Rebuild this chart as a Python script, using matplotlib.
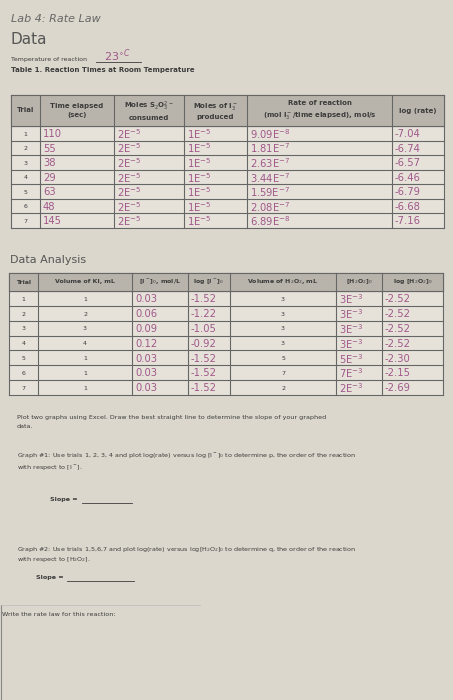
import matplotlib
matplotlib.use("Agg")
import matplotlib.pyplot as plt

trials = ["1", "2", "3", "4", "5", "6", "7"]
time_elapsed = ["110", "55", "38", "29", "63", "48", "145"]
moles_s2o3 = ["2E$^{-5}$"] * 7
moles_i3 = ["1E$^{-5}$"] * 7
rate = ["9.09E$^{-8}$", "1.81E$^{-7}$", "2.63E$^{-7}$", "3.44E$^{-7}$",
        "1.59E$^{-7}$", "2.08E$^{-7}$", "6.89E$^{-8}$"]
log_rate = ["-7.04", "-6.74", "-6.57", "-6.46", "-6.79", "-6.68", "-7.16"]

vol_ki = ["1", "2", "3", "4", "1", "1", "1"]
conc_i = ["0.03", "0.06", "0.09", "0.12", "0.03", "0.03", "0.03"]
log_i = ["-1.52", "-1.22", "-1.05", "-0.92", "-1.52", "-1.52", "-1.52"]
vol_h2o2 = ["3", "3", "3", "3", "5", "7", "2"]
conc_h2o2 = ["3E$^{-3}$", "3E$^{-3}$", "3E$^{-3}$", "3E$^{-3}$", "5E$^{-3}$", "7E$^{-3}$", "2E$^{-3}$"]
log_h2o2 = ["-2.52", "-2.52", "-2.52", "-2.52", "-2.30", "-2.15", "-2.69"]

W, H = 453, 700
fig = plt.figure(figsize=(W / 100, H / 100), dpi=100)
bg = "#dcd7cc"
fig.patch.set_facecolor(bg)
ax = fig.add_axes([0, 0, 1, 1])
ax.set_xlim(0, W)
ax.set_ylim(H, 0)
ax.axis("off")
ax.set_facecolor(bg)

ink = "#3c3c3c"
hand = "#a0588a"
head_bg = "#b9b4ab"


def table(xs, ytop, yhead, ybot, headers, cols, hand_cols, hfs=5):
    n = len(cols[0])
    ax.fill_between([xs[0], xs[-1]], ytop, yhead, color=head_bg, zorder=1)
    ax.fill_between([xs[0], xs[-1]], yhead, ybot, color="#e6e2da", zorder=0)
    for x in xs:
        ax.plot([x, x], [ytop, ybot], color="#666", lw=0.8, zorder=2)
    rh = (ybot - yhead) / n
    for y in [ytop, yhead] + [yhead + rh * i for i in range(1, n + 1)]:
        ax.plot([xs[0], xs[-1]], [y, y], color="#666", lw=0.8, zorder=2)
    for j, h in enumerate(headers):
        ax.text((xs[j] + xs[j + 1]) / 2, (ytop + yhead) / 2, h, ha="center", va="center",
                fontsize=hfs, color=ink, fontweight="bold", linespacing=1.5)
    for j, col in enumerate(cols):
        for i, v in enumerate(col):
            yc = yhead + rh * (i + 0.55)
            if j in hand_cols:
                ax.text(xs[j] + 3, yc, v, ha="left", va="center", fontsize=7.2,
                        color=hand, family="DejaVu Sans", zorder=3)
            else:
                ax.text((xs[j] + xs[j + 1]) / 2, yc, v, ha="center", va="center",
                        fontsize=4.5, color=ink, zorder=3)


ax.text(11, 19, "Lab 4: Rate Law", fontsize=8, style="italic", color="#666", va="center")
ax.text(11, 39, "Data", fontsize=11, color="#555", va="center")
ax.text(11, 59, "Temperature of reaction", fontsize=4.5, color=ink, va="center")
ax.plot([96, 141], [62, 62], color=ink, lw=0.6)
ax.text(104, 56, "23$^{\\circ C}$", fontsize=8, color=hand, va="center")
ax.text(11, 70, "Table 1. Reaction Times at Room Temperature", fontsize=5, color=ink,
        fontweight="bold", va="center")

table([11, 40, 114, 184, 247, 392, 444], 95, 126, 228,
      ["Trial", "Time elapsed\n(sec)", "Moles S$_2$O$_3^{2-}$\nconsumed",
       "Moles of I$_3^-$\nproduced", "Rate of reaction\n(mol I$_3^-$/time elapsed), mol/s", "log (rate)"],
      [trials, time_elapsed, moles_s2o3, moles_i3, rate, log_rate], {1, 2, 3, 4, 5})

ax.text(10, 260, "Data Analysis", fontsize=8, color="#555", va="center")
table([9, 38, 132, 188, 230, 336, 382, 443], 273, 291, 395,
      ["Trial", "Volume of KI, mL", "[I$^-$]$_0$, mol/L", "log [I$^-$]$_0$",
       "Volume of H$_2$O$_2$, mL", "[H$_2$O$_2$]$_0$", "log [H$_2$O$_2$]$_0$"],
      [trials, vol_ki, conc_i, log_i, vol_h2o2, conc_h2o2, log_h2o2], {2, 3, 5, 6}, hfs=4.5)

fs = 4.6
ax.text(17, 418, "Plot two graphs using Excel. Draw the best straight line to determine the slope of your graphed", fontsize=fs, color=ink, va="center")
ax.text(17, 426, "data.", fontsize=fs, color=ink, va="center")
ax.text(17, 455, "Graph #1: Use trials 1, 2, 3, 4 and plot log(rate) versus log [I$^-$]$_0$ to determine p, the order of the reaction", fontsize=fs, color=ink, va="center")
ax.text(17, 467, "with respect to [I$^-$].", fontsize=fs, color=ink, va="center")
ax.text(50, 499, "Slope =", fontsize=fs, color=ink, fontweight="bold", va="center")
ax.plot([82, 132], [503, 503], color=ink, lw=0.6)
ax.text(17, 549, "Graph #2: Use trials 1,5,6,7 and plot log(rate) versus log[H$_2$O$_2$]$_0$ to determine q, the order of the reaction", fontsize=fs, color=ink, va="center")
ax.text(17, 560, "with respect to [H$_2$O$_2$].", fontsize=fs, color=ink, va="center")
ax.text(36, 577, "Slope =", fontsize=fs, color=ink, fontweight="bold", va="center")
ax.plot([67, 134], [581, 581], color=ink, lw=0.6)
ax.text(2, 614, "Write the rate law for this reaction:", fontsize=fs, color=ink, va="center")
ax.plot([1, 1], [605, 700], color="#888", lw=0.8)
ax.plot([1, 200], [605, 605], color="#bbb", lw=0.5)

fig.savefig("out.png", dpi=100, facecolor=bg)
